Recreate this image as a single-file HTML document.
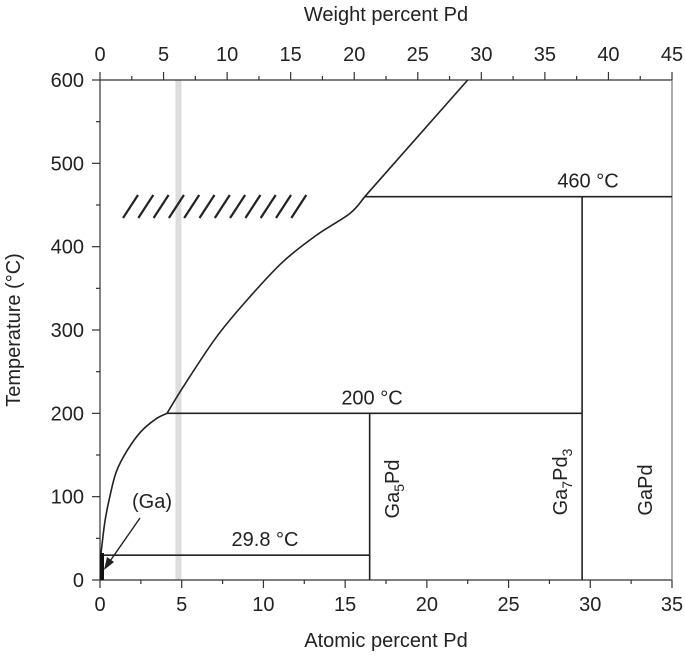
<!DOCTYPE html>
<html><head><meta charset="utf-8"><style>
body{margin:0;background:#fff}
text{font-family:"Liberation Sans",sans-serif;fill:#222}
</style></head><body>
<svg id="chart" width="685" height="660" viewBox="0 0 685 660" xmlns="http://www.w3.org/2000/svg">
<g id="g"></g>
</svg>
<script>
const xTicks=[0,5,10,15,20,25,30,35];
const wTicks=[0,5,10,15,20,25,30,35,40,45];
const yTicks=[0,100,200,300,400,500,600];
const liquidusAt=[0.05,0.3,0.6,1.0,1.65,2.5,3.4,4.1,5.1,7.14,9.18,11.2,13.26,15.3,16.2];
const liquidusT=[30,70,100,130,155,178,193,200,232,292,340,382,414,440,460];
const upperAt=[16.2,22.5];
const upperT=[460,600];
const isoT=[460,200,29.8];
const isoFrom=[16.2,4.1,0.2];
const isoTo=[35,29.5,16.5];
const compAt=[16.5,29.5,35];
const compTop=[200,460,600];
const X=a=>100+a*(572/35), W=w=>100+w*(572/45), Y=t=>580-t*(500/600);
const g=document.getElementById('g');const NS='http://www.w3.org/2000/svg';
const FS=20;
function el(t,a,p){const e=document.createElementNS(NS,t);for(const k in a)e.setAttribute(k,a[k]);(p||g).appendChild(e);return e;}
function smooth(pts){let d='M'+pts[0].join(',');for(let i=0;i<pts.length-1;i++){const p0=pts[i-1]||pts[i],p1=pts[i],p2=pts[i+1],p3=pts[i+2]||p2;
 const c1=[p1[0]+(p2[0]-p0[0])/6,p1[1]+(p2[1]-p0[1])/6],c2=[p2[0]-(p3[0]-p1[0])/6,p2[1]-(p3[1]-p1[1])/6];
 d+=` C${c1[0]},${c1[1]} ${c2[0]},${c2[1]} ${p2[0]},${p2[1]}`;}return d;}
let band=el('rect',{x:X(4.8)-3,y:80,width:6,height:500,fill:'#ddd'});


let hg=el('g',{stroke:'#222','stroke-width':2.2});


for(let i=0;i<12;i++){const x0=123+i*15.3;el('line',{x1:x0,y1:218,x2:x0+15,y2:195},hg);}
let ax=el('g',{stroke:'#333','stroke-width':1.2,fill:'none'});


el('line',{x1:100,y1:580,x2:672,y2:580},ax);
el('line',{x1:100,y1:80,x2:672,y2:80},ax);
el('line',{x1:100,y1:80,x2:100,y2:580},ax);
el('line',{x1:672,y1:80,x2:672,y2:580,stroke:'#777'},ax);
xTicks.forEach((v,i)=>{el('line',{x1:X(v),y1:580,x2:X(v),y2:588},ax);if(i<xTicks.length-1)el('line',{x1:X(v+2.5),y1:580,x2:X(v+2.5),y2:584},ax);
 let t=el('text',{x:X(v),y:611,'text-anchor':'middle','font-size':FS});t.textContent=v;
 
 });
wTicks.forEach((v,i)=>{el('line',{x1:W(v),y1:80,x2:W(v),y2:72},ax);if(i<wTicks.length-1)el('line',{x1:W(v+2.5),y1:80,x2:W(v+2.5),y2:76},ax);
 let t=el('text',{x:W(v),y:61,'text-anchor':'middle','font-size':FS});t.textContent=v;
 
 });
yTicks.forEach((v,i)=>{el('line',{x1:100,y1:Y(v),x2:92,y2:Y(v)},ax);if(i<yTicks.length-1)el('line',{x1:100,y1:Y(v+50),x2:96,y2:Y(v+50)},ax);
 let t=el('text',{x:84,y:Y(v)+7,'text-anchor':'end','font-size':FS});t.textContent=v;
 
 });
let tt=el('text',{x:386,y:21,'text-anchor':'middle','font-size':FS});tt.textContent='Weight percent Pd';


let xt=el('text',{x:386,y:647,'text-anchor':'middle','font-size':FS});xt.textContent='Atomic percent Pd';


let yt=el('text',{x:0,y:0,'text-anchor':'middle','font-size':FS,transform:'translate(20,330) rotate(-90)'});yt.textContent='Temperature (°C)';


let lines=el('g',{stroke:'#222','stroke-width':1.6,fill:'none'});


let lo=liquidusAt.slice(0,8).map((a,i)=>[X(a),Y(liquidusT[i])]);
let hi=liquidusAt.slice(7).map((a,i)=>[X(a),Y(liquidusT[i+7])]);
let liq1=el('path',{d:smooth(lo)},lines);


let liq2=el('path',{d:smooth(hi)},lines);


let liq3=el('polyline',{points:upperAt.map((a,i)=>X(a)+','+Y(upperT[i])).join(' ')},lines);


isoT.forEach((t,i)=>{let l=el('line',{x1:X(isoFrom[i]),y1:Y(t),x2:X(isoTo[i]),y2:Y(t)},lines);
 
 
 let lb=el('text',{x:i==0?588:i==1?372:265,y:Y(t)-9,'text-anchor':'middle','font-size':FS});lb.textContent=t+' °C';
 
 });
compAt.forEach((a,i)=>{if(a<35){let l=el('line',{x1:X(a),y1:580,x2:X(a),y2:Y(compTop[i])},lines);
 
 }});
function clabel(x,y,html,name){let t=el('text',{x:0,y:0,'font-size':FS,'text-anchor':'middle',transform:`translate(${x},${y}) rotate(-90)`});t.innerHTML=html;
 
 }
clabel(399,489,'Ga<tspan font-size="14" dy="5">5</tspan><tspan dy="-5">Pd</tspan>','ga5pd-label');
clabel(567,482,'Ga<tspan font-size="14" dy="5">7</tspan><tspan dy="-5">Pd</tspan><tspan font-size="14" dy="5">3</tspan>','ga7pd3-label');
clabel(652,490,'GaPd','gapd-label');
let gr=el('rect',{x:100,y:553,width:4,height:27,fill:'#111'});


let ga=el('text',{x:152,y:508,'text-anchor':'middle','font-size':FS});ga.textContent='(Ga)';


let ar=el('line',{x1:140,y1:518,x2:108,y2:564,stroke:'#222','stroke-width':1.4});


el('polygon',{points:'104,570 107,557 114,562',fill:'#222'});
</script>
</body></html>
